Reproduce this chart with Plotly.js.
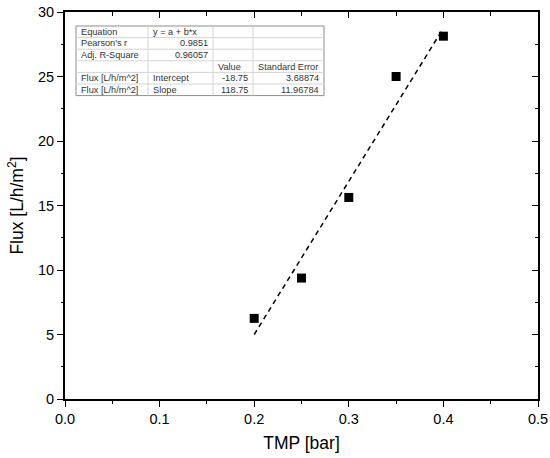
<!DOCTYPE html>
<html>
<head>
<meta charset="utf-8">
<script src="https://cdn.plot.ly/plotly-3.0.1.min.js"></script>
<style>
  html, body { margin: 0; padding: 0; background: #fff; }
  #myDiv { width: 550px; height: 458px; }
</style>
</head>
<body>
<div id="myDiv"></div>
<script>
// measured points
var tmp = [0.20, 0.25, 0.30, 0.35, 0.40];
var flux = [6.25, 9.375, 15.625, 25.0, 28.125];

// linear fit y = a + b*x (from the fit table)
var fitA = -18.75;
var fitB = 118.75;
var fitX = [0.20, 0.40];

// fit report table, one array per column
var colLabel = ["Equation", "Pearson's r", "Adj. R-Square", "", "Flux [L/h/m^2]", "Flux [L/h/m^2]"];
var colParam = ["y = a + b*x", "0.9851", "0.96057", "", "Intercept", "Slope"];
var colValue = ["", "", "", "Value", "-18.75", "118.75"];
var colError = ["", "", "", "Standard Error", "3.68874", "11.96784"];

var fnt = "Liberation Sans, Arial, sans-serif";

// plot box in pixels (margins below)
var W = 550, H = 458;
var M = { l: 65, r: 12, t: 12, b: 59 };
function px2x(p) { return (p - M.l) / (W - M.l - M.r); }
function px2y(p) { return (H - M.b - p) / (H - M.t - M.b); }

/**************************************************************/
function makeTraces() {
  var fitY = [];
  for (var i = 0; i < fitX.length; i++) {
    fitY.push(fitA + fitB * fitX[i]);
  }

  var fit = {
    x: fitX, y: fitY,
    mode: "lines", type: "scatter",
    line: { color: "black", width: 1.5, dash: "5px,4px" },
    hoverinfo: "skip"
  };

  var pts = {
    x: tmp, y: flux,
    mode: "markers", type: "scatter",
    marker: { symbol: "square", size: 9, color: "black" },
    hoverinfo: "x+y"
  };

  var ret = [fit, pts];
  // invisible copies so the extra tick axes get drawn
  for (var k = 2; k <= 4; k++) {
    ret.push({
      x: tmp, y: flux, xaxis: "x" + k, yaxis: "y" + k,
      mode: "markers", type: "scatter",
      marker: { opacity: 0 }, hoverinfo: "skip"
    });
  }
  return ret;
}

// fit table drawn as shapes + annotations
function makeTable() {
  var colEdge = [76, 148, 213, 253, 324];
  var top = 26, rowH = 11.6;
  var cols = [colLabel, colParam, colValue, colError];
  var align = [
    ["left", "left", "left", "left", "left", "left"],
    ["left", "right", "right", "left", "left", "left"],
    ["left", "left", "left", "left", "right", "right"],
    ["left", "left", "left", "left", "right", "right"]
  ];
  var nrow = colLabel.length;
  var bottom = top + nrow * rowH;
  var shapes = [], ann = [];
  var grid = { color: "#d4d4d4", width: 1 };

  shapes.push({ type: "rect", xref: "paper", yref: "paper",
    x0: px2x(colEdge[0]), x1: px2x(colEdge[4]), y0: px2y(top), y1: px2y(bottom),
    fillcolor: "white", line: { color: "#8c8c8c", width: 1 }, layer: "above" });
  for (var r = 1; r < nrow; r++) {
    shapes.push({ type: "line", xref: "paper", yref: "paper",
      x0: px2x(colEdge[0]), x1: px2x(colEdge[4]),
      y0: px2y(top + r * rowH), y1: px2y(top + r * rowH), line: grid, layer: "above" });
  }
  for (var c = 1; c < 4; c++) {
    shapes.push({ type: "line", xref: "paper", yref: "paper",
      x0: px2x(colEdge[c]), x1: px2x(colEdge[c]),
      y0: px2y(top), y1: px2y(bottom), line: grid, layer: "above" });
  }
  for (c = 0; c < 4; c++) {
    for (r = 0; r < nrow; r++) {
      if (cols[c][r] === "") continue;
      var a = align[c][r];
      ann.push({ xref: "paper", yref: "paper",
        x: px2x(a == "left" ? colEdge[c] + 3 : colEdge[c + 1] - 3),
        y: px2y(top + (r + 0.5) * rowH),
        xanchor: a, yanchor: "middle", showarrow: false,
        text: cols[c][r],
        font: { family: fnt, size: 9.2, color: "#333" } });
    }
  }
  return { shapes: shapes, annotations: ann };
}

// extra tick-only axes (top/right frame ticks and minor ticks)
function tickAxis(over, side, range, dtick, dir, len) {
  return {
    overlaying: over, side: side, range: range,
    dtick: dtick, tick0: 0,
    ticks: dir, ticklen: len, tickwidth: 1.3, tickcolor: "black",
    showline: false, showgrid: false, zeroline: false,
    showticklabels: true, tickfont: { size: 1, color: "rgba(0,0,0,0)" }
  };
}

function getLayout() {
  var tickFont = { family: fnt, size: 14.5, color: "black" };
  var titleFont = { family: fnt, size: 17.5, color: "black" };
  var xr = [0, 0.5], yr = [0, 30];
  var tbl = makeTable();
  return {
    width: W, height: H,
    margin: M,
    paper_bgcolor: "white", plot_bgcolor: "rgba(0,0,0,0)",
    showlegend: false,
    shapes: tbl.shapes,
    annotations: tbl.annotations,
    xaxis: {
      range: xr, dtick: 0.1, tick0: 0, tickformat: ".1f",
      ticks: "outside", ticklen: 6, tickwidth: 1.3, tickcolor: "black",
      showline: true, mirror: true, linewidth: 1.8, linecolor: "black",
      showgrid: false, zeroline: false,
      tickfont: tickFont,
      title: { text: "TMP [bar]", font: titleFont, standoff: 10 },
      automargin: false
    },
    yaxis: {
      range: yr, dtick: 5, tick0: 0,
      ticks: "outside", ticklen: 6, tickwidth: 1.3, tickcolor: "black",
      showline: true, mirror: true, linewidth: 1.8, linecolor: "black",
      showgrid: false, zeroline: false,
      tickfont: tickFont,
      title: { text: "Flux [L/h/m<sup>2</sup>]", font: titleFont, standoff: 10 },
      automargin: false
    },
    xaxis2: tickAxis("x", "top", xr, 0.1, "inside", 6),
    yaxis2: tickAxis("y", "right", yr, 5, "inside", 6),
    xaxis3: tickAxis("x", "bottom", xr, 0.05, "outside", 3.5),
    yaxis3: tickAxis("y", "left", yr, 2.5, "outside", 3.5),
    xaxis4: tickAxis("x", "top", xr, 0.05, "inside", 3.5),
    yaxis4: tickAxis("y", "right", yr, 2.5, "inside", 3.5)
  };
}

Plotly.newPlot("myDiv", makeTraces(), getLayout(), { displayModeBar: false });
</script>
</body>
</html>
